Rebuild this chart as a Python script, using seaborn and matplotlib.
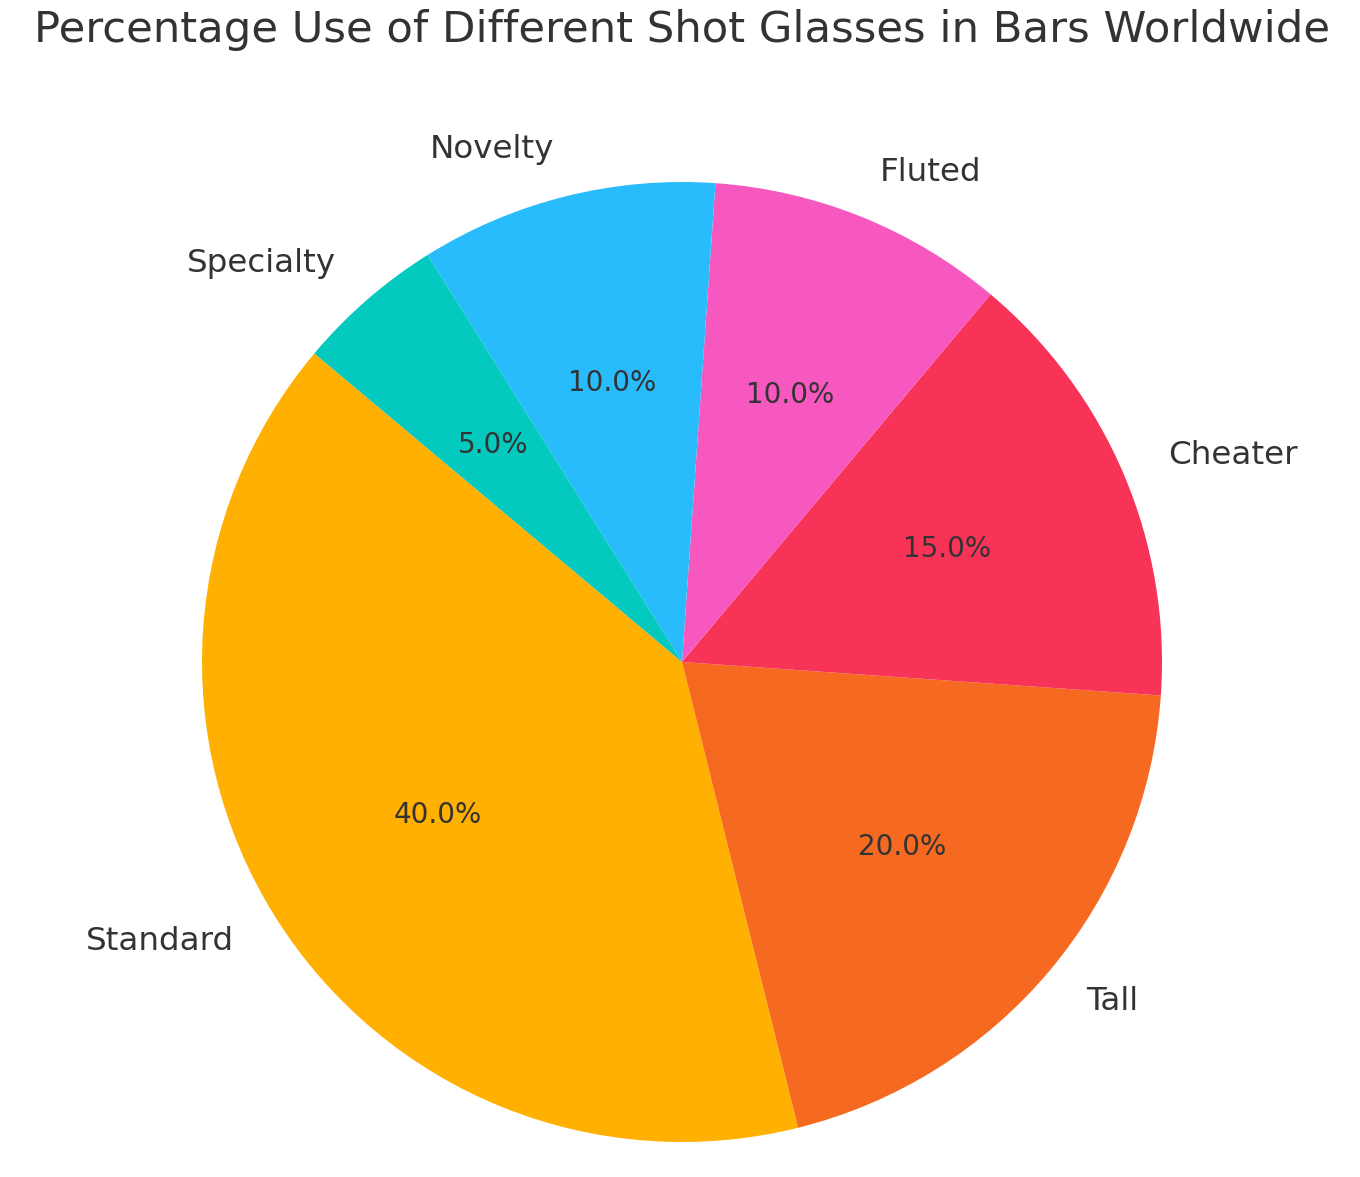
import matplotlib
matplotlib.use("Agg")
import matplotlib.pyplot as plt
import seaborn as sns

categories = ["Standard", "Tall", "Cheater", "Fluted", "Novelty", "Specialty"]
values = [40, 20, 15, 10, 10, 5]
colors = ["#FFB000", "#F56A20", "#F73358", "#F758C0", "#29BCFD", "#03C9BF"]
title = "Percentage Use of Different Shot Glasses in Bars Worldwide"

sns.set_theme(style="white")
plt.rcParams['font.family'] = ['DejaVu Sans']
text_color = "#333333"

fig = plt.figure(figsize=(13.6, 11.77), dpi=100)
ax = fig.add_axes([82 / 1360, (1177 - 1262) / 1177, 1200 / 1360, 1200 / 1177])
wedges, texts, autotexts = ax.pie(
    values, labels=categories, colors=colors, startangle=140,
    autopct="%1.1f%%", labeldistance=1.1, pctdistance=0.6,
    textprops={"fontsize": 23.4, "color": text_color},
    wedgeprops={"linewidth": 0, "edgecolor": "none"},
)
for t in autotexts:
    t.set_fontsize(20)
    t.set_color(text_color)
ax.set_aspect("equal")
fig.text(682 / 1360, 1 - 30 / 1177, title, ha="center", va="center",
         fontsize=31.2, color=text_color)
fig.savefig("out.png", dpi=100, facecolor="white")
